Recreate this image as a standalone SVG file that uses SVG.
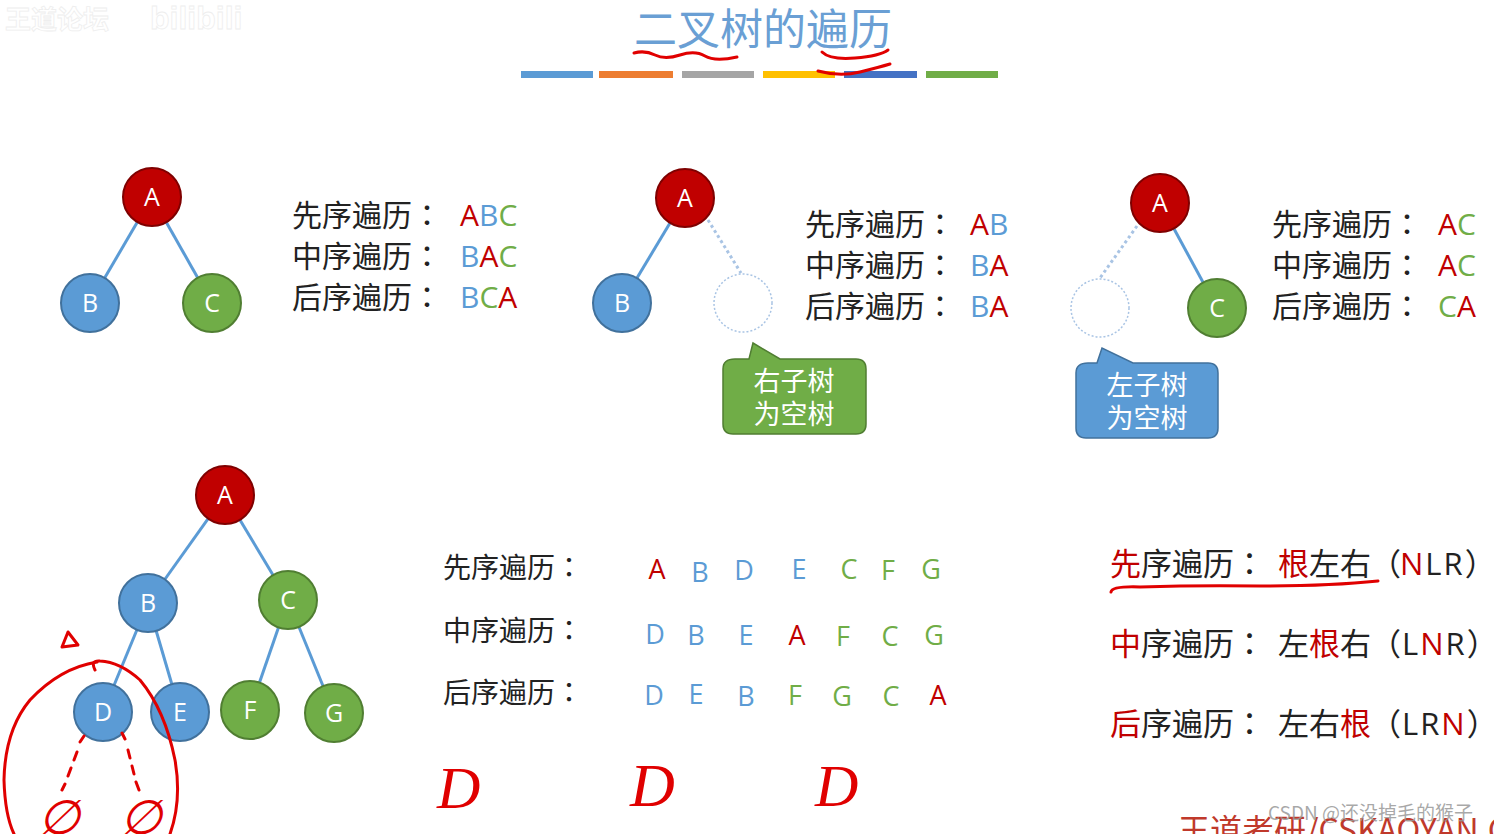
<svg xmlns="http://www.w3.org/2000/svg" width="1494" height="834" viewBox="0 0 1494 834">
<style>
.cn{font-family:"Noto Sans CJK SC","Noto Sans",sans-serif;fill:#222}
.cl{font-family:"Noto Sans CJK TC","Noto Sans CJK SC",sans-serif}
.lt{font-family:"Open Sans","Liberation Sans",sans-serif}
.nl{font-family:"Open Sans","Liberation Sans",sans-serif;font-size:25px;fill:#fff;text-anchor:middle}
.r{fill:#c00000}.b{fill:#5b9bd5}.g{fill:#70ad47}.k{fill:#222}
.nr{fill:#c00000;stroke:#7f0000;stroke-width:2}
.nb{fill:#5b9bd5;stroke:#41719c;stroke-width:2}
.ng{fill:#70ad47;stroke:#507e32;stroke-width:2}
.ne{fill:none;stroke:#a9c4e4;stroke-width:1.5;stroke-dasharray:2 2}
.ed{stroke:#5b9bd5;stroke-width:3}
.edd{stroke:#a9c4e4;stroke-width:3;stroke-dasharray:3 3}
.ink{fill:none;stroke:#e00000;stroke-width:3;stroke-linecap:round;stroke-linejoin:round}
.hw{font-family:"Liberation Serif",serif;font-style:italic;fill:#e00000}
.co{font-family:"Noto Sans CJK SC",sans-serif;font-size:27px;fill:#fff;text-anchor:middle}
</style>
<rect width="1494" height="834" fill="#fff"/>

<!-- watermark top-left -->
<g id="wm-top" font-family="Noto Sans CJK SC,sans-serif" font-size="26" font-weight="bold" fill="#fff" stroke="#eeeeee" stroke-width="0.8">
<text x="5" y="29">王道论坛</text>
<text x="150" y="29" font-family="Liberation Sans,sans-serif" font-size="32">bilibili</text>
</g>

<!-- title -->
<g id="title">
<text x="763" y="45" text-anchor="middle" font-family="Noto Sans CJK SC,sans-serif" font-size="43" fill="#6a9fd4">二叉树的遍历</text>
<rect x="521" y="71" width="72" height="7" fill="#5b9bd5"/>
<rect x="599" y="71" width="74" height="7" fill="#ed7d31"/>
<rect x="682" y="71" width="72" height="7" fill="#a5a5a5"/>
<rect x="763" y="71" width="72" height="7" fill="#ffc000"/>
<rect x="844" y="71" width="73" height="7" fill="#4472c4"/>
<rect x="926" y="71" width="72" height="7" fill="#70ad47"/>
<path class="ink" d="M634 53 Q645 50 655 55 T680 55 T705 56 T737 57"/>
<path class="ink" d="M822 52 Q830 60 855 58 T888 50"/>
<path class="ink" d="M818 71 Q840 77 860 72 T890 64"/>
</g>

<!-- connectors -->
<g id="connectors">
<line class="ed" x1="152" y1="197" x2="90" y2="303"/>
<line class="ed" x1="152" y1="197" x2="212" y2="303"/>
<line class="ed" x1="685" y1="198" x2="622" y2="303"/>
<line class="edd" x1="708" y1="220" x2="741" y2="273"/>
<line class="ed" x1="1160" y1="203" x2="1217" y2="308"/>
<line class="edd" x1="1137" y1="226" x2="1100" y2="278"/>
<line class="ed" x1="225" y1="495" x2="148" y2="603"/>
<line class="ed" x1="225" y1="495" x2="288" y2="600"/>
<line class="ed" x1="148" y1="603" x2="103" y2="712"/>
<line class="ed" x1="148" y1="603" x2="180" y2="712"/>
<line class="ed" x1="288" y1="600" x2="250" y2="710"/>
<line class="ed" x1="288" y1="600" x2="334" y2="713"/>
</g>

<!-- tree 1 -->
<g id="t1-A"><circle class="nr" cx="152" cy="197" r="29"/><text class="nl" x="152" y="206">A</text></g>
<g id="t1-B"><circle class="nb" cx="90" cy="303" r="29"/><text class="nl" x="90" y="312">B</text></g>
<g id="t1-C"><circle class="ng" cx="212" cy="303" r="29"/><text class="nl" x="212" y="312">C</text></g>
<g id="t1-text" font-size="30">
<text class="cn" x="292" y="226">先序遍历<tspan class="cl">：</tspan><tspan class="lt r" x="460">A</tspan><tspan class="lt b">B</tspan><tspan class="lt g">C</tspan></text>
<text class="cn" x="292" y="267">中序遍历<tspan class="cl">：</tspan><tspan class="lt b" x="460">B</tspan><tspan class="lt r">A</tspan><tspan class="lt g">C</tspan></text>
<text class="cn" x="292" y="308">后序遍历<tspan class="cl">：</tspan><tspan class="lt b" x="460">B</tspan><tspan class="lt g">C</tspan><tspan class="lt r">A</tspan></text>
</g>

<!-- tree 2 -->
<g id="t2-A"><circle class="nr" cx="685" cy="198" r="29"/><text class="nl" x="685" y="207">A</text></g>
<g id="t2-B"><circle class="nb" cx="622" cy="303" r="29"/><text class="nl" x="622" y="312">B</text></g>
<g id="t2-empty"><circle class="ne" cx="743" cy="303" r="29"/></g>
<g id="t2-text" font-size="30">
<text class="cn" x="805" y="235">先序遍历<tspan class="cl">：</tspan><tspan class="lt r" x="970">A</tspan><tspan class="lt b">B</tspan></text>
<text class="cn" x="805" y="276">中序遍历<tspan class="cl">：</tspan><tspan class="lt b" x="970">B</tspan><tspan class="lt r">A</tspan></text>
<text class="cn" x="805" y="317">后序遍历<tspan class="cl">：</tspan><tspan class="lt b" x="970">B</tspan><tspan class="lt r">A</tspan></text>
</g>
<g id="callout-right">
<path d="M735 359 L749 359 L753 343 L780 359 L856 359 Q866 359 866 369 L866 424 Q866 434 856 434 L733 434 Q723 434 723 424 L723 369 Q723 359 735 359 Z" fill="#70ad47" stroke="#507e32" stroke-width="1.5"/>
<text class="co" x="794" y="391">右子树</text>
<text class="co" x="794" y="424">为空树</text>
</g>

<!-- tree 3 -->
<g id="t3-A"><circle class="nr" cx="1160" cy="203" r="29"/><text class="nl" x="1160" y="212">A</text></g>
<g id="t3-C"><circle class="ng" cx="1217" cy="308" r="29"/><text class="nl" x="1217" y="317">C</text></g>
<g id="t3-empty"><circle class="ne" cx="1100" cy="308" r="29"/></g>
<g id="t3-text" font-size="30">
<text class="cn" x="1272" y="235">先序遍历<tspan class="cl">：</tspan><tspan class="lt r" x="1438">A</tspan><tspan class="lt g">C</tspan></text>
<text class="cn" x="1272" y="276">中序遍历<tspan class="cl">：</tspan><tspan class="lt r" x="1438">A</tspan><tspan class="lt g">C</tspan></text>
<text class="cn" x="1272" y="317">后序遍历<tspan class="cl">：</tspan><tspan class="lt g" x="1438">C</tspan><tspan class="lt r">A</tspan></text>
</g>
<g id="callout-left">
<path d="M1088 363 L1097 363 L1102 348 L1133 363 L1208 363 Q1218 363 1218 373 L1218 428 Q1218 438 1208 438 L1086 438 Q1076 438 1076 428 L1076 373 Q1076 363 1088 363 Z" fill="#5b9bd5" stroke="#41719c" stroke-width="1.5"/>
<text class="co" x="1147" y="395">左子树</text>
<text class="co" x="1147" y="428">为空树</text>
</g>

<!-- bottom tree -->
<g id="b-A"><circle class="nr" cx="225" cy="495" r="29"/><text class="nl" x="225" y="504">A</text></g>
<g id="b-B"><circle class="nb" cx="148" cy="603" r="29"/><text class="nl" x="148" y="612">B</text></g>
<g id="b-C"><circle class="ng" cx="288" cy="600" r="29"/><text class="nl" x="288" y="609">C</text></g>
<g id="b-D"><circle class="nb" cx="103" cy="712" r="29"/><text class="nl" x="103" y="721">D</text></g>
<g id="b-E"><circle class="nb" cx="180" cy="712" r="29"/><text class="nl" x="180" y="721">E</text></g>
<g id="b-F"><circle class="ng" cx="250" cy="710" r="29"/><text class="nl" x="250" y="719">F</text></g>
<g id="b-G"><circle class="ng" cx="334" cy="713" r="29"/><text class="nl" x="334" y="722">G</text></g>

<!-- ink annotations on bottom tree -->
<g id="ink-tree">
<path class="ink" d="M62 647 L68 632 L78 645 Z"/>
<path class="ink" d="M95 670 Q90 660 100 661 Q120 662 140 680 Q165 710 175 760 Q182 800 170 834"/>
<path class="ink" d="M97 662 Q60 668 30 700 Q5 730 4 780 Q5 815 14 834"/>
<path class="ink" d="M84 736 L80 742 M77 752 L74 760 M71 768 L68 776 M65 784 L62 790"/>
<path class="ink" d="M122 733 L125 739 M128 750 L130 758 M132 766 L134 774 M136 782 L139 790"/>
<text class="hw" x="38" y="834" font-size="48" font-style="normal">∅</text>
<text class="hw" x="120" y="834" font-size="48" font-style="normal">∅</text>
</g>

<!-- traversal lists -->
<g id="list" font-size="28">
<text class="cn" x="443" y="578">先序遍历<tspan class="cl">：</tspan></text>
<text class="cn" x="443" y="641">中序遍历<tspan class="cl">：</tspan></text>
<text class="cn" x="443" y="703">后序遍历<tspan class="cl">：</tspan></text>
<g class="lt" text-anchor="middle" font-size="27">
<text class="r" x="657" y="579">A</text><text class="b" x="700" y="582">B</text><text class="b" x="744" y="580">D</text><text class="b" x="799" y="579">E</text><text class="g" x="849" y="579">C</text><text class="g" x="888" y="580">F</text><text class="g" x="931" y="579">G</text>
<text class="b" x="655" y="644">D</text><text class="b" x="696" y="645">B</text><text class="b" x="746" y="645">E</text><text class="r" x="797" y="645">A</text><text class="g" x="843" y="646">F</text><text class="g" x="890" y="646">C</text><text class="g" x="934" y="645">G</text>
<text class="b" x="654" y="705">D</text><text class="b" x="696" y="704">E</text><text class="b" x="746" y="706">B</text><text class="g" x="795" y="705">F</text><text class="g" x="842" y="706">G</text><text class="g" x="891" y="706">C</text><text class="r" x="938" y="705">A</text>
</g>
</g>

<!-- handwritten D marks -->
<g id="ink-D">
<text class="hw" x="437" y="808" font-size="60">D</text>
<text class="hw" x="630" y="806" font-size="62">D</text>
<text class="hw" x="815" y="806" font-size="60">D</text>
</g>

<!-- rules -->
<g id="rules" font-size="31">
<text class="cn" x="1110" y="575"><tspan class="r">先</tspan>序遍历<tspan class="cl">：</tspan><tspan class="r" x="1278">根</tspan>左右<tspan class="cl" x="1370">（</tspan><tspan class="lt r" x="1400" letter-spacing="2">N</tspan><tspan class="lt" letter-spacing="2">LR</tspan><tspan class="cl">）</tspan></text>
<text class="cn" x="1110" y="655"><tspan class="r">中</tspan>序遍历<tspan class="cl">：</tspan><tspan x="1278">左</tspan><tspan class="r">根</tspan>右<tspan class="cl" x="1370">（</tspan><tspan class="lt" x="1402" letter-spacing="2">L</tspan><tspan class="lt r" letter-spacing="2">N</tspan><tspan class="lt" letter-spacing="2">R</tspan><tspan class="cl">）</tspan></text>
<text class="cn" x="1110" y="735"><tspan class="r">后</tspan>序遍历<tspan class="cl">：</tspan><tspan x="1278">左右</tspan><tspan class="r">根</tspan><tspan class="cl" x="1370">（</tspan><tspan class="lt" x="1402" letter-spacing="2">LR</tspan><tspan class="lt r" letter-spacing="2">N</tspan><tspan class="cl">）</tspan></text>
<path class="ink" d="M1111 592 Q1112 586 1140 587 Q1200 585 1260 586 Q1330 586 1378 581"/>
</g>

<!-- watermark bottom-right -->
<g id="wm-bottom">
<text x="1178" y="842" font-family="Noto Sans CJK SC,sans-serif" font-size="32" fill="#c0392b">王道考研/CSKAOYAN.COM</text>
<text x="1268" y="820" font-family="Noto Sans CJK SC,sans-serif" font-size="19" fill="#999" fill-opacity="0.85">CSDN @还没掉毛的猴子</text>
</g>
</svg>
